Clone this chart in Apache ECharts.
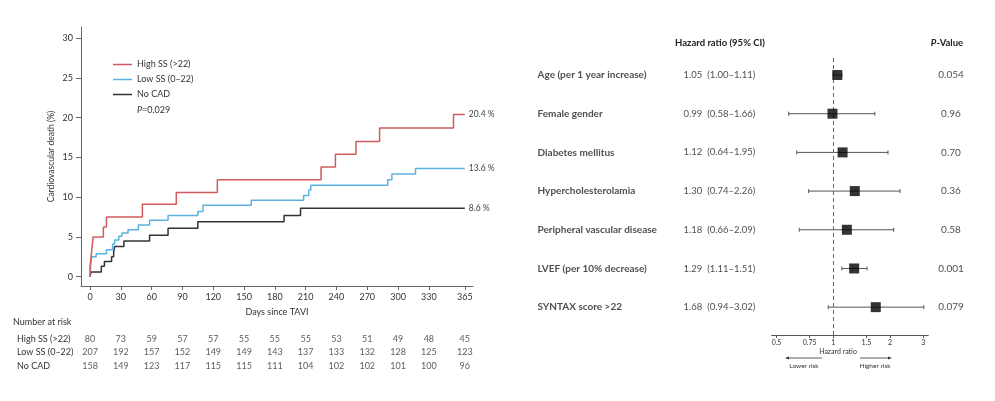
<!DOCTYPE html>
<html><head><meta charset="utf-8">
<script src="https://cdn.jsdelivr.net/npm/echarts@6/dist/echarts.min.js"></script>
<style>html,body{margin:0;padding:0;background:#fff}#c{width:995px;height:401px}</style>
</head><body><div id="c"></div>
<script>
// ---------- Kaplan-Meier data ----------
const kmTickDays = [0,30,60,90,120,150,180,210,240,270,300,330,365];
const kmYTicks = [0,5,10,15,20,25,30];
const groupNames = ['High SS (>22)','Low SS (0–22)','No CAD'];
const groupColors = ['#d05a5c','#5cb2e0','#333333'];
const highDays = [0,0,1,2,3,13,16,51,84,124,225,239,259,282,354,365];
const highVals = [0,1.25,2.5,3.75,5.0,6.25,7.5,9.1,10.6,12.2,13.8,15.4,17.0,18.7,20.4,20.4];
const lowDays = [0,1,2,6,16,22,24,28,31,37,47,58,76,105,110,157,208,213,215,290,294,317,365];
const lowVals = [0,2.1,2.5,2.9,3.4,4.1,4.6,5.1,5.5,5.9,6.5,7.1,7.7,8.2,9.0,9.6,10.2,10.9,11.5,12.2,12.9,13.6,13.6];
const noDays = [0,1,11,14,21,23,24,33,58,76,105,189,205,365];
const noVals = [0,0.6,1.3,1.9,2.5,3.1,3.8,4.5,5.2,6.1,6.9,7.7,8.6,8.6];
const endLabels = ['20.4 %','13.6 %','8.6 %'];
const riskHigh = [80,73,59,57,57,55,55,55,53,51,49,48,45];
const riskLow = [207,192,157,152,149,149,143,137,133,132,128,125,123];
const riskNo = [158,149,123,117,115,115,111,104,102,102,101,100,96];
const pLogRank = '0.029';

// ---------- Forest plot data ----------
const factors = ['Age (per 1 year increase)','Female gender','Diabetes mellitus','Hypercholesterolamia','Peripheral vascular disease','LVEF (per 10% decrease)','SYNTAX score >22'];
const hrVals = [1.05,0.99,1.12,1.30,1.18,1.29,1.68];
const ciLow = [1.00,0.58,0.64,0.74,0.66,1.11,0.94];
const ciHigh = [1.11,1.66,1.95,2.26,2.09,1.51,3.02];
const hrText = ['1.05  (1.00–1.11)','0.99  (0.58–1.66)','1.12  (0.64–1.95)','1.30  (0.74–2.26)','1.18  (0.66–2.09)','1.29  (1.11–1.51)','1.68  (0.94–3.02)'];
const pValues = ['0.054','0.96','0.70','0.36','0.58','0.001','0.079'];
const hrTicks = [0.5,0.75,1,1.5,2,3];
const hrTickLabels = ['0.5','0.75','1','1.5','2','3'];

const FONT = 'Lato';
const TXT = '#333';
const zip = (a,b) => a.map((v,i)=>[v,b[i]]);
const lnTicks = hrTicks.map(Math.log);
const rowIdx = factors.map((_,i)=>i);

const kmSeries = [[highDays,highVals],[lowDays,lowVals],[noDays,noVals]].map((d,k)=>({
  name: groupNames[k], type:'line', step:'end', xAxisIndex:0, yAxisIndex:0,
  data: zip(d[0],d[1]), symbol:'none', showSymbol:false,
  lineStyle:{color:groupColors[k], width:1.5}, itemStyle:{color:groupColors[k]},
  endLabel:{show:true, formatter: endLabels[k], distance:4, fontSize:8.5, color:'#444', fontFamily:FONT},
  z: 3-k
}));

const riskSeries = [riskHigh,riskLow,riskNo].map((arr,k)=>({
  type:'scatter', xAxisIndex:1, yAxisIndex:1, silent:true,
  data: kmTickDays.map((d,j)=>[d, groupNames[k], arr[j]]),
  symbolSize:1, itemStyle:{color:'transparent'},
  label:{show:true, position:'inside', formatter:p=>String(p.value[2]), fontSize:9, color:TXT, fontFamily:FONT}
}));

function textCol(gi, texts, pos, bold, size){
  return {type:'scatter', xAxisIndex:gi, yAxisIndex:gi, silent:true,
    data: rowIdx.map(i=>[0,i]), symbolSize:1, itemStyle:{color:'transparent'},
    label:{show:true, position:pos, distance:0, formatter:p=>texts[p.dataIndex],
      fontSize:size, fontWeight:bold?'bold':'normal', color:'#222', fontFamily:FONT}};
}

const forestY = {min:-0.44, max:6.72, inverse:true, show:false};

const option = {
  animation:false,
  textStyle:{fontFamily:FONT},
  legend:{data:groupNames.map((n,k)=>({name:n, icon:'rect', itemStyle:{color:groupColors[k]}})),
    orient:'vertical', left:113, top:59, padding:0, itemWidth:19, itemHeight:1.5, itemGap:4,
    textStyle:{fontSize:9, color:TXT, fontFamily:FONT, lineHeight:11}},
  grid:[
    {left:81, top:27, width:392, height:259},
    {left:81, top:332, width:392, height:40.5},
    {left:771.7, top:58, width:156.6, height:277},
    {left:537, top:58, width:10, height:277},
    {left:683, top:58, width:10, height:277},
    {left:951, top:58, width:1, height:277}
  ],
  xAxis:[
    {gridIndex:0, type:'value', min:-8.8, max:373, name:'Days since TAVI', nameLocation:'middle', nameGap:22,
      nameTextStyle:{fontSize:9, color:TXT},
      axisLine:{onZero:false, lineStyle:{color:'#666'}}, splitLine:{show:false},
      axisTick:{customValues:kmTickDays, length:4, lineStyle:{color:'#666'}},
      axisLabel:{customValues:kmTickDays, fontSize:9, color:TXT, margin:7}},
    {gridIndex:1, type:'value', min:-8.8, max:373, show:false},
    {gridIndex:2, type:'value', min:-0.752, max:1.16,
      axisLine:{onZero:false, lineStyle:{color:'#555'}}, splitLine:{show:false},
      axisTick:{customValues:lnTicks, length:3, lineStyle:{color:'#555'}},
      axisLabel:{customValues:lnTicks, fontSize:7, color:TXT, margin:4,
        formatter:v=>{let b=0;lnTicks.forEach((t,i)=>{if(Math.abs(t-v)<Math.abs(lnTicks[b]-v))b=i;});return hrTickLabels[b];}}},
    {gridIndex:3, type:'value', min:0, max:1, show:false},
    {gridIndex:4, type:'value', min:0, max:1, show:false},
    {gridIndex:5, type:'value', min:0, max:1, show:false}
  ],
  yAxis:[
    {gridIndex:0, type:'value', min:-1.17, max:31.4, name:'Cardiovascular death (%)', nameLocation:'middle', nameGap:25, nameRotate:90,
      nameTextStyle:{fontSize:8.5, color:TXT},
      axisLine:{show:true, onZero:false, lineStyle:{color:'#666'}}, splitLine:{show:false},
      axisTick:{show:true, customValues:kmYTicks, length:5, lineStyle:{color:'#666'}},
      axisLabel:{customValues:kmYTicks, fontSize:9, color:TXT, margin:8}},
    {gridIndex:1, type:'category', data:groupNames, inverse:true,
      axisLine:{show:false}, axisTick:{show:false},
      axisLabel:{align:'left', margin:64, fontSize:9, color:TXT}},
    Object.assign({gridIndex:2, type:'value'}, forestY),
    Object.assign({gridIndex:3, type:'value'}, forestY),
    Object.assign({gridIndex:4, type:'value'}, forestY),
    Object.assign({gridIndex:5, type:'value'}, forestY)
  ],
  series:[
    ...kmSeries,
    ...riskSeries,
    {type:'custom', xAxisIndex:2, yAxisIndex:2, silent:true,
      data: rowIdx.map(i=>[Math.log(ciLow[i]), Math.log(ciHigh[i]), i]),
      renderItem:(params, api)=>{
        const a = api.coord([api.value(0), api.value(2)]);
        const b = api.coord([api.value(1), api.value(2)]);
        const st = {stroke:'#555', lineWidth:1};
        return {type:'group', children:[
          {type:'line', shape:{x1:a[0],y1:a[1],x2:b[0],y2:b[1]}, style:st},
          {type:'line', shape:{x1:a[0],y1:a[1]-2,x2:a[0],y2:a[1]+2}, style:st},
          {type:'line', shape:{x1:b[0],y1:b[1]-2,x2:b[0],y2:b[1]+2}, style:st}
        ]};
      }},
    {type:'scatter', xAxisIndex:2, yAxisIndex:2, silent:true,
      data: rowIdx.map(i=>[Math.log(hrVals[i]), i]),
      symbol:'rect', symbolSize:10, itemStyle:{color:'#000'}, z:5,
      markLine:{silent:true, symbol:'none', label:{show:false},
        lineStyle:{color:'#666', type:[4,3], width:1}, data:[{xAxis:0}]}},
    textCol(3, factors, 'right', true, 10),
    textCol(4, hrText, 'right', false, 9.5),
    textCol(5, pValues, 'inside', false, 10)
  ],
  graphic:[
    {type:'text', left:137, top:106, style:{text:'{i|P}='+pLogRank, fontSize:9, fill:TXT, fontFamily:FONT,
      rich:{i:{fontStyle:'italic', fontSize:9, fill:TXT, fontFamily:FONT}}}},
    {type:'text', left:13, top:318, style:{text:'Number at risk', fontSize:9, fill:TXT, fontFamily:FONT}},
    {type:'text', x:720, y:43, style:{text:'Hazard ratio (95% CI)', fontSize:9.5, fontWeight:'bold', fill:'#222', fontFamily:FONT, align:'center', verticalAlign:'middle'}},
    {type:'text', x:947, y:43, style:{text:'{i|P}-Value', fontSize:9.5, fontWeight:'bold', fill:'#222', fontFamily:FONT, align:'center', verticalAlign:'middle',
      rich:{i:{fontStyle:'italic', fontWeight:'bold', fontSize:9.5, fill:'#222', fontFamily:FONT}}}},
    {type:'text', x:838, y:352, style:{text:'Hazard ratio', fontSize:7, fill:TXT, fontFamily:FONT, align:'center', verticalAlign:'middle'}},
    {type:'line', shape:{x1:822,y1:358,x2:787,y2:358}, style:{stroke:'#333', lineWidth:0.8}},
    {type:'polygon', shape:{points:[[785,358],[789,356.5],[789,359.5]]}, style:{fill:'#333'}},
    {type:'text', x:804, y:366, style:{text:'Lower risk', fontSize:6.5, fill:TXT, fontFamily:FONT, align:'center', verticalAlign:'middle'}},
    {type:'line', shape:{x1:860,y1:358,x2:890,y2:358}, style:{stroke:'#333', lineWidth:0.8}},
    {type:'polygon', shape:{points:[[892,358],[888,356.5],[888,359.5]]}, style:{fill:'#333'}},
    {type:'text', x:875, y:366, style:{text:'Higher risk', fontSize:6.5, fill:TXT, fontFamily:FONT, align:'center', verticalAlign:'middle'}}
  ]
};
const chart = echarts.init(document.getElementById('c'));
chart.setOption(option);
</script></body></html>
